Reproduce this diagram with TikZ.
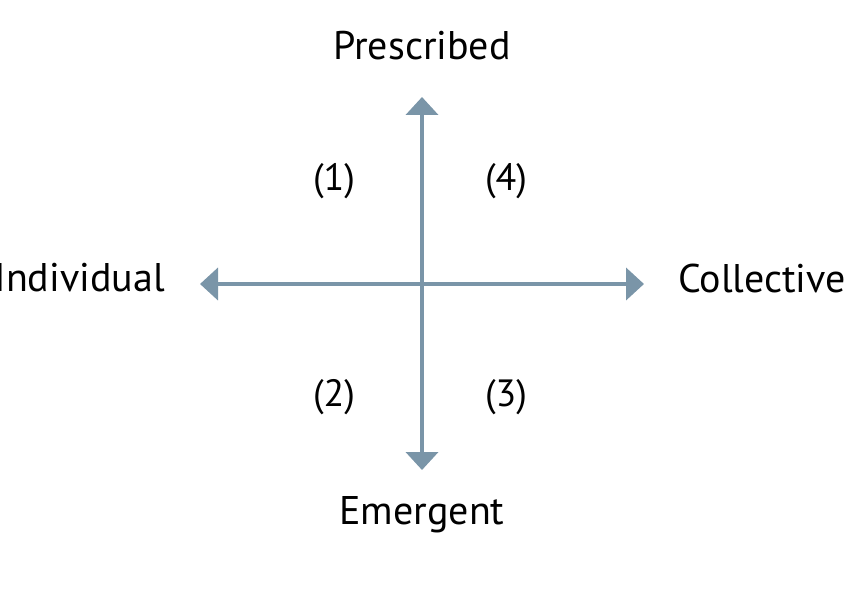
\documentclass[tikz,border=0pt]{standalone}
\usepackage{fontspec}
\setmainfont{PT Sans}
\usetikzlibrary{arrows.meta}
\definecolor{axis}{RGB}{122,149,168}
\begin{document}
\begin{tikzpicture}[x=1pt,y=-1pt,
  axisline/.style={draw=axis,line width=4pt,-{Triangle[length=18pt,width=32pt]}},
  lbl/.style={font=\fontsize{40}{44}\selectfont,inner sep=0pt},
  num/.style={font=\fontsize{38}{42}\selectfont,inner sep=0pt}]
\useasboundingbox (0,0) rectangle (847,591);
\coordinate (c) at (422,284);
\coordinate (top) at (422,97);
\coordinate (bot) at (422,470);
\coordinate (left) at (200,284);
\coordinate (right) at (644,284);
\draw[axisline] (c) -- (top);
\draw[axisline] (c) -- (bot);
\draw[axisline] (c) -- (left);
\draw[axisline] (c) -- (right);
\node[lbl] (pre) at (422,46) {Prescribed};
\node[lbl] (eme) at (422,515) {Emergent};
\node[lbl,anchor=east] (ind) at (165,278) {Individual};
\node[lbl,anchor=west] (col) at (678,278) {Collective};
\node[num] (n1) at (334,181) {(1)};
\node[num] (n4) at (506,181) {(4)};
\node[num] (n2) at (334,397) {(2)};
\node[num] (n3) at (506,397) {(3)};
\end{tikzpicture}
\end{document}
